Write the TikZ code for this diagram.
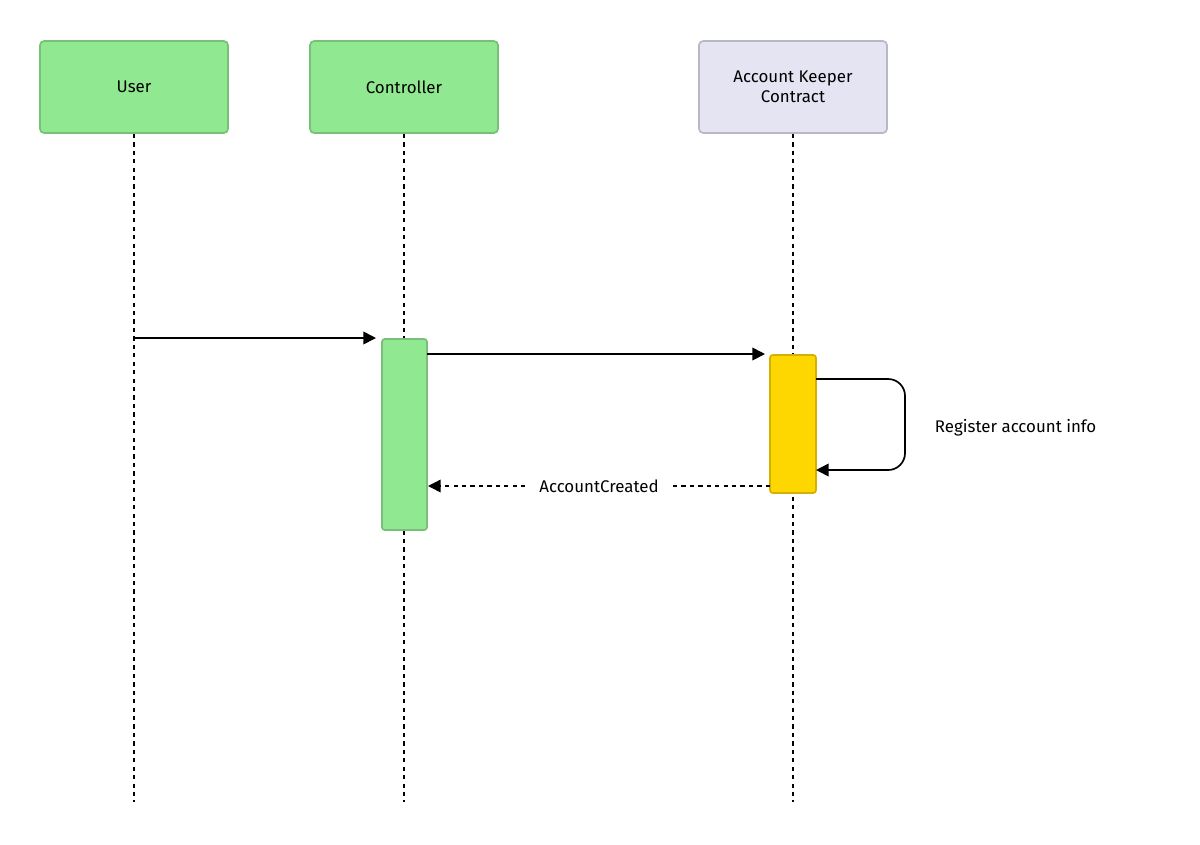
\documentclass[tikz,border=0pt]{standalone}
\usepackage{fontspec}
\setmainfont{Fira Sans}
\usetikzlibrary{arrows.meta}
\definecolor{actgreen}{HTML}{90E890}
\definecolor{actedge}{HTML}{78C078}
\definecolor{keepfill}{HTML}{E4E4F2}
\definecolor{keepedge}{HTML}{B8B8C8}
\definecolor{barfill}{HTML}{FFD700}
\definecolor{baredge}{HTML}{D4B000}
\begin{document}
\begin{tikzpicture}[x=0.025cm,y=-0.025cm,
	actor/.style={draw=actedge, fill=actgreen, line width=1.2pt, rounded corners=3pt,
		minimum width=4.7cm, minimum height=2.3cm, align=center, font=\large},
	life/.style={densely dashed, line width=1pt, dash pattern=on 3pt off 3pt},
	msg/.style={line width=1.2pt, -{Triangle[length=9pt,width=9pt]}}]
	\useasboundingbox (0,0) rectangle (1200,844);
	% Actors
	\node[actor] (user) at (134,87) {User};
	\node[actor] (ctrl) at (404,87) {Controller};
	\node[actor, draw=keepedge, fill=keepfill] (keep) at (793,87) {Account Keeper\\Contract};
	% Lifelines
	\foreach \n/\x in {user/134,ctrl/404,keep/793} {
		\coordinate (\n end) at (\x,802);
		\draw[life] (\n.south) -- (\n end);
	}
	% Activations
	\draw[draw=actedge, fill=actgreen, line width=1.2pt, rounded corners=2pt] (382,339) rectangle (427,530);
	\draw[draw=baredge, fill=barfill, line width=1.2pt, rounded corners=2pt] (770,355) rectangle (816,493);
	% Messages
	\coordinate (m1a) at (134,338); \coordinate (m1b) at (376,338);
	\draw[msg] (m1a) -- (m1b);
	\coordinate (m2a) at (427,354); \coordinate (m2b) at (765,354);
	\draw[msg] (m2a) -- (m2b);
	\coordinate (s1) at (816,379); \coordinate (s2) at (816,470);
	\draw[msg, rounded corners=12pt] (s1) -- (905,379) -- (905,470) -- (s2);
	\node[font=\large, anchor=west] (reg) at (930,428) {Register account info};
	\coordinate (r1) at (770,486); \coordinate (r2) at (428,486);
	\draw[msg, life] (r1) -- node[fill=white, font=\large, inner xsep=10pt] (acc) {AccountCreated} (r2);
\end{tikzpicture}
\end{document}
